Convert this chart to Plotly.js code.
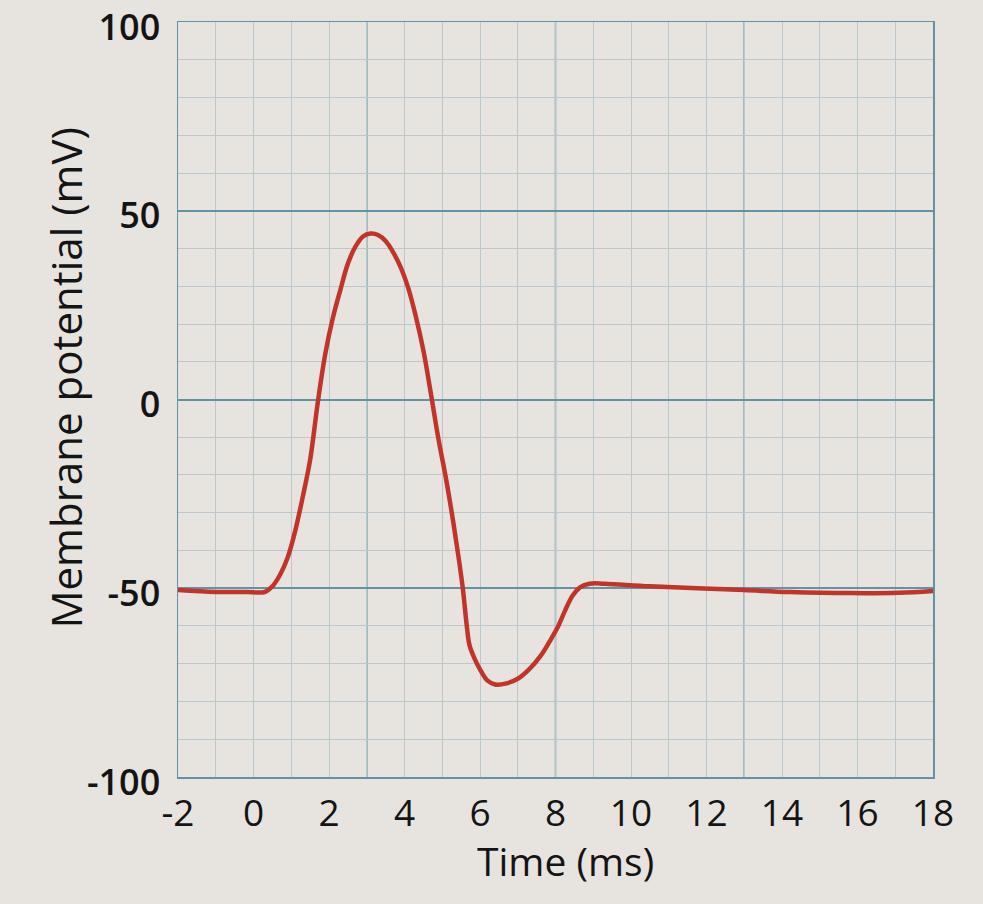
<!DOCTYPE html>
<html>
<head>
<meta charset="utf-8">
<script src="https://cdn.plot.ly/plotly-3.0.1.min.js"></script>
<style>
  html, body { margin: 0; padding: 0; background: #e7e4df; }
  #chart { width: 983px; height: 904px; }
</style>
</head>
<body>
<div id="chart"></div>
<script>
// Time (ms) and membrane potential (mV)
const timeMs = [-2, -1, -0.2, 0.3, 0.5, 0.7, 0.9, 1.1, 1.3, 1.5, 1.7, 1.9, 2.1, 2.3, 2.5, 2.7, 2.9, 3.1, 3.3, 3.5, 3.7, 3.9, 4.1, 4.3, 4.5, 4.7, 4.9, 5.1, 5.3, 5.45, 5.55, 5.65, 5.72, 5.85, 6.0, 6.2, 6.4, 6.7, 7.0, 7.3, 7.6, 7.85, 8.05, 8.25, 8.45, 8.65, 8.9, 9.3, 10.5, 13, 14.2, 15.8, 17.1, 18.05];
const potentialMv = [-50.5, -51, -51, -51, -49.5, -46.5, -42, -35, -26, -16, -1, 12, 21.5, 29, 36, 40.5, 43.2, 44, 43.6, 42, 39, 35, 29.5, 22, 13, 1.5, -10.5, -21, -33, -43, -50.5, -60, -65, -68.5, -71.5, -74.5, -75.5, -75.2, -74, -71.5, -68, -64, -60.5, -56, -52, -49.8, -48.8, -48.8, -49.5, -50.5, -51, -51.3, -51.2, -50.7];

// axis ticks and titles
const xTicks = [-2, 0, 2, 4, 6, 8, 10, 12, 14, 16, 18];
const yTicks = [-100, -50, 0, 50, 100];
const xTitle = 'Time (ms)';
const yTitle = 'Membrane potential (mV)';
// heavy graph-paper lines on the time axis
const majorGridX = [3, 8, 13];

const paper = '#e7e4df';
const minorGrid = '#bac7cc';
const majorGrid = '#6193a4';
const traceRed = '#c0342a';
const font = '"Open Sans", Lato, sans-serif';
const ink = '#141414';

const trace = {
  x: timeMs,
  y: potentialMv,
  type: 'scatter',
  mode: 'lines',
  line: { color: traceRed, width: 4.5, shape: 'spline', smoothing: 1 },
  hoverinfo: 'skip'
};

const shapes = majorGridX.map(v => ({
  type: 'line', xref: 'x', yref: 'paper', x0: v, x1: v, y0: 0, y1: 1,
  line: { color: majorGrid, width: 1.5 }, layer: 'between'
}));

const annotations = [
  { text: xTitle, xref: 'paper', yref: 'paper', x: 0.5126, y: -0.11, xanchor: 'center', yanchor: 'middle', showarrow: false,
    font: { family: font, size: 39, color: ink } },
  { text: yTitle, xref: 'paper', yref: 'paper', x: -0.148, y: 0.5285, xanchor: 'center', yanchor: 'middle', showarrow: false, textangle: -90,
    font: { family: font, size: 42, color: ink } }
];

const layout = {
  width: 983,
  height: 904,
  margin: { l: 178, r: 50, t: 22, b: 127 },
  paper_bgcolor: paper,
  plot_bgcolor: paper,
  showlegend: false,
  shapes: shapes,
  annotations: annotations,
  xaxis: {
    range: [-2, 18],
    tickvals: xTicks,
    ticktext: xTicks.map(String),
    showgrid: true,
    gridcolor: minorGrid,
    gridwidth: 1,
    minor: { dtick: 1, tick0: -2, showgrid: true, gridcolor: minorGrid, gridwidth: 1 },
    zeroline: false,
    showline: true,
    mirror: true,
    linecolor: majorGrid,
    linewidth: 1.5,
    ticks: '',
    ticklabelstandoff: 3,
    ticklabeloverflow: 'allow',
    tickfont: { family: font, size: 37, color: ink }
  },
  yaxis: {
    range: [-100.02, 100.02],
    tickvals: yTicks,
    ticktext: yTicks.map(String),
    showgrid: true,
    gridcolor: majorGrid,
    gridwidth: 2,
    minor: { dtick: 10, tick0: -100, showgrid: true, gridcolor: minorGrid, gridwidth: 1 },
    zeroline: false,
    showline: true,
    mirror: true,
    linecolor: majorGrid,
    linewidth: 1.5,
    ticks: '',
    ticklabelstandoff: 9,
    ticklabelshift: 5,
    ticklabeloverflow: 'allow',
    tickfont: { family: font, size: 36, color: ink, weight: 600 }
  }
};

Plotly.newPlot('chart', [trace], layout, { displayModeBar: false, staticPlot: true });
</script>
</body>
</html>
